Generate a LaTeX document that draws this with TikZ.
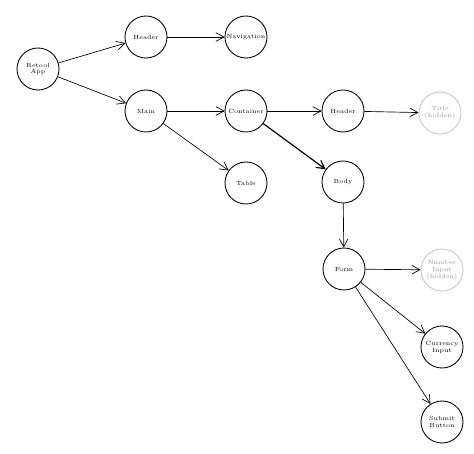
\documentclass[tikz,border=0pt]{standalone}
\usepackage{tikz}
\usetikzlibrary{arrows.meta}
\usetikzlibrary{positioning}

\begin{document}
\begin{tikzpicture}[
  x=0.75pt, y=-0.75pt,
  > = {Straight Barb[length=6pt,width=6.5pt]},
  comp/.style = {draw,circle,line width=0.65pt,minimum size=31.5pt,inner sep=0pt,align=center,font=\fontsize{4.5}{5.2}\selectfont},
  hidden/.style = {comp,draw=black!22,text=black!40},
  link/.style = {->,line width=0.5pt},
  thick link/.style = {->,line width=0.9pt}
  ]
	\useasboundingbox (0,0) rectangle (474,453);

	\node[comp] (app) at (38,69) {Retool\\App};
	\node[comp] (hdr) at (146,37) {Header};
	\node[comp] (nav) at (246,37) {Navigation};
	\node[comp] (main) at (146,111) {Main};
	\node[comp] (cont) at (246,111) {Container};
	\node[comp] (tbl) at (246,183) {Table};
	\node[comp] (chdr) at (343,111) {Header};
	\node[hidden] (title) at (440,113) {Title\\(hidden)};
	\node[comp] (body) at (343,182) {Body};
	\node[comp] (form) at (344,269) {Form};
	\node[hidden] (num) at (442,270) {Number\\Input\\(hidden)};
	\node[comp] (cur) at (442,347) {Currency\\Input};
	\node[comp] (sub) at (442,422) {Submit\\Button};

	\draw[link] (app) -- (hdr);
	\draw[link] (app) -- (main);
	\draw[link] (hdr) -- (nav);
	\draw[link] (main) -- (cont);
	\draw[link] (main) -- (tbl);
	\draw[link] (cont) -- (chdr);
	\draw[thick link] (cont) -- (body);
	\draw[link] (chdr) -- (title);
	\draw[link] (body) -- (form);
	\draw[link] (form) -- (num);
	\draw[link] (form) -- (cur);
	\draw[link] (form) -- (sub);

\end{tikzpicture}
\end{document}
